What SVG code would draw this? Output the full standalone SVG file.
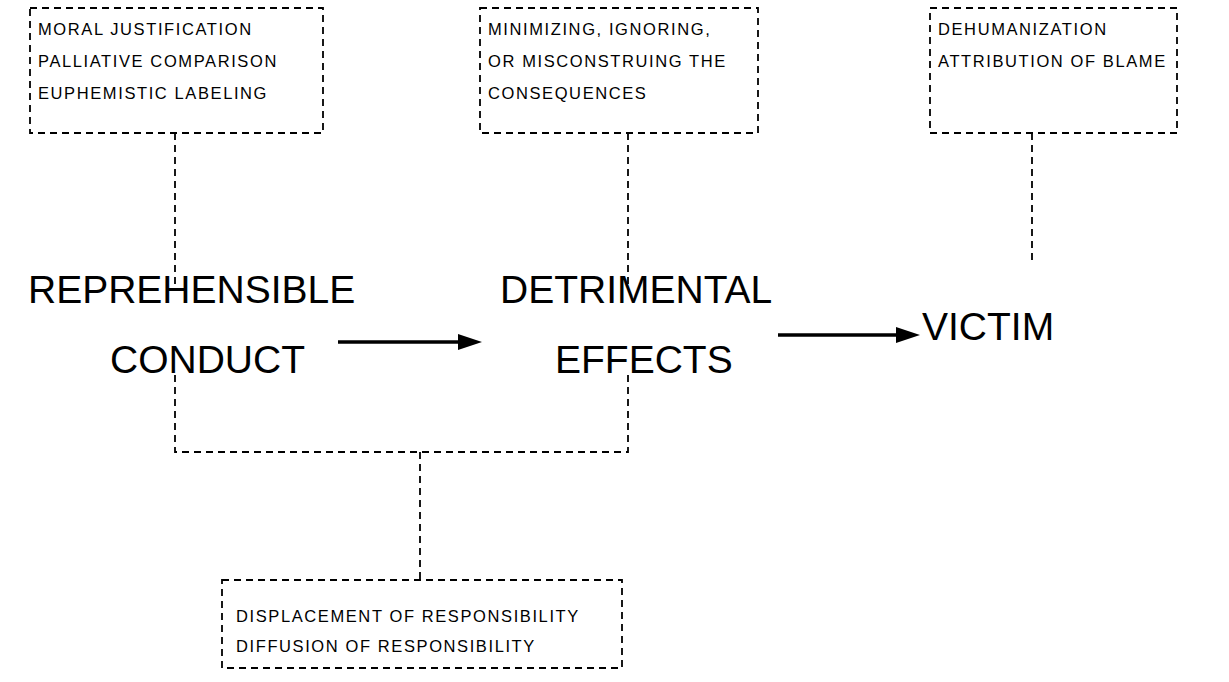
<svg xmlns="http://www.w3.org/2000/svg" width="1229" height="682" viewBox="0 0 1229 682">
<style>
.d{fill:none;stroke:#000;stroke-width:1.8;stroke-dasharray:7,5}
.s{font-family:"Liberation Sans",Arial,sans-serif;font-size:16.5px;letter-spacing:1.6px}
.b{font-family:"Liberation Sans",Arial,sans-serif;font-size:39px}
</style>
<rect width="1229" height="682" fill="#fff"/>
<g id="box1"><rect class="d" x="30" y="8" width="293" height="125"/>
<text class="s" x="38" y="35">MORAL JUSTIFICATION</text><text class="s" x="38" y="67">PALLIATIVE COMPARISON</text><text class="s" x="38" y="99">EUPHEMISTIC LABELING</text></g>
<g id="box2"><rect class="d" x="480" y="8" width="278" height="125"/>
<text class="s" x="488" y="35">MINIMIZING, IGNORING,</text><text class="s" x="488" y="67">OR MISCONSTRUING THE</text><text class="s" x="488" y="99">CONSEQUENCES</text></g>
<g id="box3"><rect class="d" x="930" y="8" width="247" height="125"/>
<text class="s" x="938" y="35">DEHUMANIZATION</text><text class="s" x="938" y="67">ATTRIBUTION OF BLAME</text></g>
<g id="box4"><rect class="d" x="222" y="580" width="400" height="88"/>
<text class="s" x="236" y="622">DISPLACEMENT OF RESPONSIBILITY</text><text class="s" x="236" y="652">DIFFUSION OF RESPONSIBILITY</text></g>
<g id="n1"><text class="b" x="28" y="303">REPREHENSIBLE</text><text class="b" x="110" y="373">CONDUCT</text></g>
<g id="n2"><text class="b" x="500" y="303">DETRIMENTAL</text><text class="b" x="555" y="373">EFFECTS</text></g>
<g id="n3"><text class="b" x="922" y="340">VICTIM</text></g>
<g id="connectors">
<path class="d" d="M175,133V288M628,133V288M1032,133V265"/>
<path class="d" d="M175,375V452H628V375M420,452V580"/>
<path d="M338,342H470" stroke="#000" stroke-width="3.5"/><path d="M482,342L458,334V350z"/>
<path d="M778,335H908" stroke="#000" stroke-width="3.5"/><path d="M920,335L896,327V343z"/>
</g>
</svg>
